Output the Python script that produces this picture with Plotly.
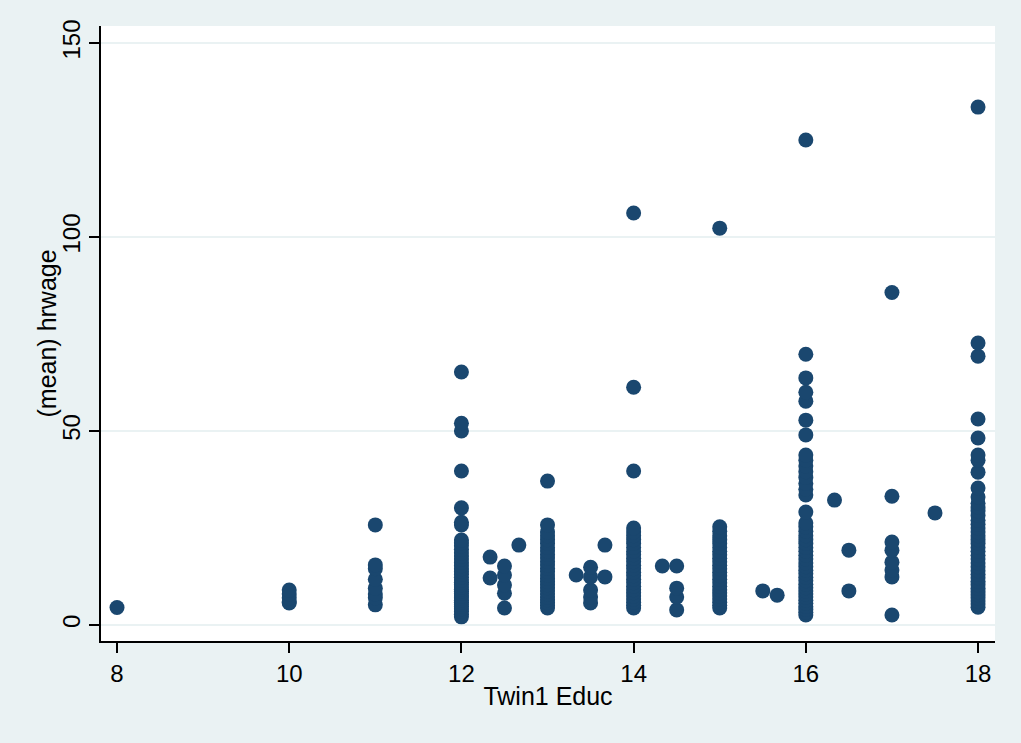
import plotly.graph_objects as go

# Twin1 education levels (x) and mean hourly wage values (y) per level
educ_levels = [8, 10, 11, 12, 12.333, 12.5, 12.667, 13, 13.333, 13.5, 13.667,
               14, 14.333, 14.5, 15, 15.5, 15.667, 16, 16.333, 16.5, 17, 17.5, 18]

wage_8 = [4.5]
wage_10 = [5.7, 6.0, 7.0, 8.0, 9.0]
wage_11 = [5.2, 7.0, 8.0, 9.5, 11.8, 14.5, 15.5, 25.8]
wage_12 = [2.1, 2.8, 3.5, 4.2, 4.8, 5.3, 5.9, 6.4, 7.0, 7.5, 8.1, 8.7, 9.2, 9.8,
           10.4, 11.0, 11.6, 12.3, 13.0, 13.8, 14.5, 15.3, 16.1, 17.0, 17.8,
           18.6, 19.5, 20.4, 21.2, 21.9, 25.8, 26.5, 30.2, 39.7, 50.0, 52.0, 65.2]
wage_12_33 = [12.1, 17.5]
wage_12_5 = [4.4, 8.2, 10.3, 12.9, 15.2]
wage_12_67 = [20.6]
wage_13 = [4.4, 5.0, 5.8, 6.5, 7.2, 8.0, 8.8, 9.6, 10.4, 11.2, 12.0, 12.9, 13.8,
           14.6, 15.5, 16.4, 17.3, 18.2, 19.1, 20.0, 21.0, 22.0, 23.0, 24.0,
           25.8, 37.1]
wage_13_33 = [12.9]
wage_13_5 = [5.7, 7.2, 9.0, 12.4, 14.9]
wage_13_67 = [12.4, 20.6]
wage_14 = [4.4, 5.1, 5.9, 6.7, 7.5, 8.3, 9.1, 10.0, 10.9, 11.8, 12.7, 13.6,
           14.5, 15.4, 16.3, 17.2, 18.1, 19.0, 20.0, 21.0, 22.0, 23.0, 24.0,
           25.0, 39.7, 61.3, 106.2]
wage_14_33 = [15.2]
wage_14_5 = [3.9, 7.2, 9.5, 15.2]
wage_15 = [4.4, 5.1, 5.9, 6.7, 7.5, 8.3, 9.1, 10.0, 10.9, 11.8, 12.7, 13.6,
           14.5, 15.4, 16.3, 17.2, 18.1, 19.0, 20.0, 21.0, 22.0, 23.0, 24.2,
           25.3, 102.3]
wage_15_5 = [8.8]
wage_15_67 = [7.7]
wage_16 = [2.6, 3.3, 4.0, 4.8, 5.6, 6.4, 7.2, 8.0, 8.8, 9.6, 10.5, 11.4, 12.3,
           13.2, 14.1, 15.0, 16.0, 17.0, 18.0, 19.0, 20.0, 21.0, 22.0, 23.0,
           24.2, 25.3, 26.3, 29.1, 33.5, 35.0, 36.5, 38.0, 39.5, 41.0, 42.5,
           43.8, 49.0, 52.8, 57.7, 60.0, 63.7, 69.8, 125.0]
wage_16_33 = [32.2]
wage_16_5 = [8.8, 19.3]
wage_17 = [2.6, 12.4, 14.2, 16.2, 19.3, 21.4, 33.2, 85.7]
wage_17_5 = [28.9]
wage_18 = [4.6, 5.4, 6.2, 7.0, 7.8, 8.6, 9.5, 10.4, 11.3, 12.2, 13.1, 14.0,
           15.0, 16.0, 17.0, 18.0, 19.0, 20.0, 21.0, 22.0, 23.0, 24.0, 25.0,
           26.0, 27.0, 28.2, 29.4, 30.4, 31.4, 33.0, 35.3, 39.4, 42.5, 43.8,
           48.2, 53.1, 69.3, 72.7, 133.5]

wage_groups = [wage_8, wage_10, wage_11, wage_12, wage_12_33, wage_12_5,
               wage_12_67, wage_13, wage_13_33, wage_13_5, wage_13_67, wage_14,
               wage_14_33, wage_14_5, wage_15, wage_15_5, wage_15_67, wage_16,
               wage_16_33, wage_16_5, wage_17, wage_17_5, wage_18]

x_ticks = [8, 10, 12, 14, 16, 18]
y_ticks = [0, 50, 100, 150]

xs, ys = [], []
for e, ws in zip(educ_levels, wage_groups):
    for w in ws:
        xs.append(e)
        ys.append(w)

navy = "#1a476f"
bg = "#EAF2F3"
font_family = "Liberation Sans, Arial, sans-serif"

W, H = 1021, 743
ML, MR, MT, MB = 101, 26, 26, 102
plot_w = W - ML - MR

fig = go.Figure(go.Scatter(
    x=xs, y=ys, mode="markers",
    marker=dict(color=navy, size=15, line=dict(width=0)),
    showlegend=False, hoverinfo="x+y",
))

fig.update_layout(
    width=W, height=H,
    paper_bgcolor=bg, plot_bgcolor="white",
    margin=dict(l=ML, r=MR, t=MT, b=MB),
    font=dict(family=font_family, size=24, color="black"),
    xaxis=dict(
        range=[7.814, 18.197], tickvals=x_ticks, ticktext=[str(t) for t in x_ticks],
        showgrid=False, zeroline=False,
        showline=True, linecolor="black", linewidth=1.5,
        ticks="outside", ticklen=10, tickwidth=1.5, tickcolor="black",
        tickfont=dict(size=24),
        title=dict(text="Twin1 Educ", font=dict(size=25), standoff=2),
    ),
    yaxis=dict(
        range=[-4.12, 154.4], tickvals=y_ticks, ticktext=[str(t) for t in y_ticks],
        showgrid=True, gridcolor=bg, gridwidth=2, zeroline=False,
        showline=True, linecolor="black", linewidth=1.5,
        ticks="outside", ticklen=10, tickwidth=1.5, tickcolor="black",
        tickangle=-90, tickfont=dict(size=24),
    ),
    annotations=[dict(
        text="(mean) hrwage", textangle=-90, showarrow=False,
        xref="paper", yref="paper", x=(46 - ML) / plot_w, y=0.5,
        xanchor="center", yanchor="middle", font=dict(size=25),
    )],
)

fig.write_html(
    "out.html",
    config={"displayModeBar": False},
    post_script="document.body.style.margin='0';document.body.style.background='" + bg + "';",
)
